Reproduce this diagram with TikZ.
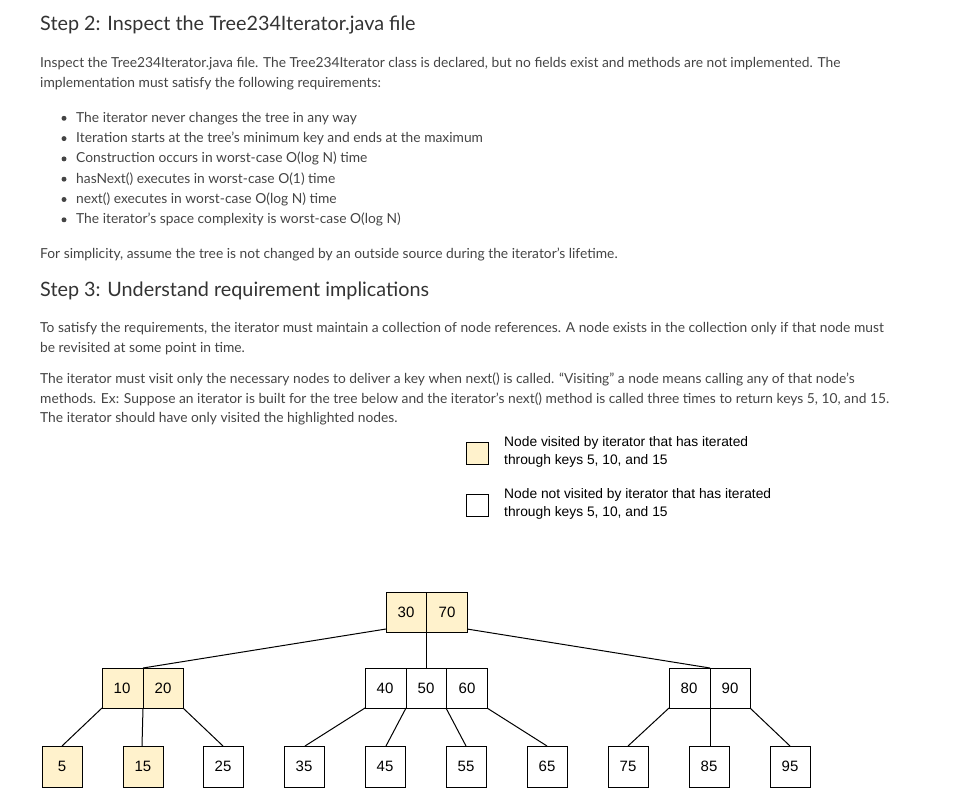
\documentclass[tikz,border=0pt]{standalone}
\usepackage{fontspec}
\setmainfont{Lato}
\newfontfamily\arial{Liberation Sans}
\definecolor{txt}{HTML}{444444}
\definecolor{hd}{HTML}{333333}
\definecolor{vis}{HTML}{FFF2CC}
\begin{document}
\begin{tikzpicture}[x=1pt,y=-1pt,
  hdg/.style={anchor=west,inner sep=0,text=hd,font=\fontsize{19.8}{24}\selectfont},
  bt/.style={anchor=west,inner sep=0,text=txt,font=\fontsize{13.8}{16}\selectfont},
  lg/.style={anchor=west,inner sep=0,align=left,font=\arial\fontsize{13.8}{18}\selectfont},
  bx/.style={draw,line width=1pt},
  lab/.style={font=\arial\fontsize{15}{16}\selectfont},
  ed/.style={line width=1pt}]
\useasboundingbox (0,0) rectangle (965,802);
\node[hdg] (h2) at (40,25) {Step 2: Inspect the Tree234Iterator.java file};
\node[bt] (p1) at (40,64) {Inspect the Tree234Iterator.java file. The Tree234Iterator class is declared, but no fields exist and methods are not implemented. The};
\node[bt] (p1b) at (40,84) {implementation must satisfy the following requirements:};
\foreach \t [count=\i] in {The iterator never changes the tree in any way,Iteration starts at the tree's minimum key and ends at the maximum,Construction occurs in worst-case O(log N) time,hasNext() executes in worst-case O(1) time,next() executes in worst-case O(log N) time,The iterator's space complexity is worst-case O(log N)}{
  \fill[txt] (64,{98+20.3*\i}) circle (2.5);
  \node[bt] (b\i) at (76,{98+20.3*\i}) {\t};
}
\node[bt] (p2) at (40,254) {For simplicity, assume the tree is not changed by an outside source during the iterator's lifetime.};
\node[hdg] (h3) at (40,291) {Step 3: Understand requirement implications};
\node[bt] (p3) at (40,329) {To satisfy the requirements, the iterator must maintain a collection of node references. A node exists in the collection only if that node must};
\node[bt] (p3b) at (40,349) {be revisited at some point in time.};
\node[bt] (p4) at (40,379) {The iterator must visit only the necessary nodes to deliver a key when next() is called. ``Visiting'' a node means calling any of that node's};
\node[bt] (p4b) at (40,399) {methods. Ex: Suppose an iterator is built for the tree below and the iterator's next() method is called three times to return keys 5, 10, and 15.};
\node[bt] (p4c) at (40,419) {The iterator should have only visited the highlighted nodes.};
% legend
\draw[bx,fill=vis] (466,442) rectangle (488,464);
\node[lg] (l1) at (504,452) {Node visited by iterator that has iterated\\through keys 5, 10, and 15};
\draw[bx] (466,494) rectangle (488,516);
\node[lg] (l2) at (504,504) {Node not visited by iterator that has iterated\\through keys 5, 10, and 15};
% edges
\draw[ed] (386,629) -- (143,668);
\draw[ed] (426,632) -- (426,668);
\draw[ed] (467,629) -- (710,668);
\draw[ed] (102,708) -- (62,746);
\draw[ed] (143,708) -- (142,746);
\draw[ed] (183,708) -- (223,746);
\draw[ed] (365,708) -- (305,746);
\draw[ed] (406,708) -- (386,746);
\draw[ed] (446,708) -- (466,746);
\draw[ed] (487,708) -- (547,746);
\draw[ed] (669,708) -- (628,746);
\draw[ed] (710,708) -- (710,746);
\draw[ed] (750,708) -- (790,746);
% root
\draw[bx,fill=vis] (386,592) rectangle (467,632); \draw[bx] (426,592)--(426,632);
\node[lab] at (406,612) {30}; \node[lab] at (447,612) {70};
% level 2
\draw[bx,fill=vis] (102,668) rectangle (183,708); \draw[bx] (143,668)--(143,708);
\node[lab] at (122,688) {10}; \node[lab] at (163,688) {20};
\draw[bx] (365,668) rectangle (487,708); \draw[bx] (406,668)--(406,708); \draw[bx] (446,668)--(446,708);
\node[lab] at (385,688) {40}; \node[lab] at (426,688) {50}; \node[lab] at (467,688) {60};
\draw[bx] (669,668) rectangle (750,708); \draw[bx] (710,668)--(710,708);
\node[lab] at (689,688) {80}; \node[lab] at (730,688) {90};
% leaves
\foreach \x/\k/\f in {42/5/vis,123/15/vis,203/25/white,284/35/white,365/45/white,446/55/white,527/65/white,608/75/white,689/85/white,770/95/white}{
  \draw[bx,fill=\f] (\x,746) rectangle ({\x+40},787);
  \node[lab] at ({\x+20},766.5) {\k};
}
\end{tikzpicture}
\end{document}
